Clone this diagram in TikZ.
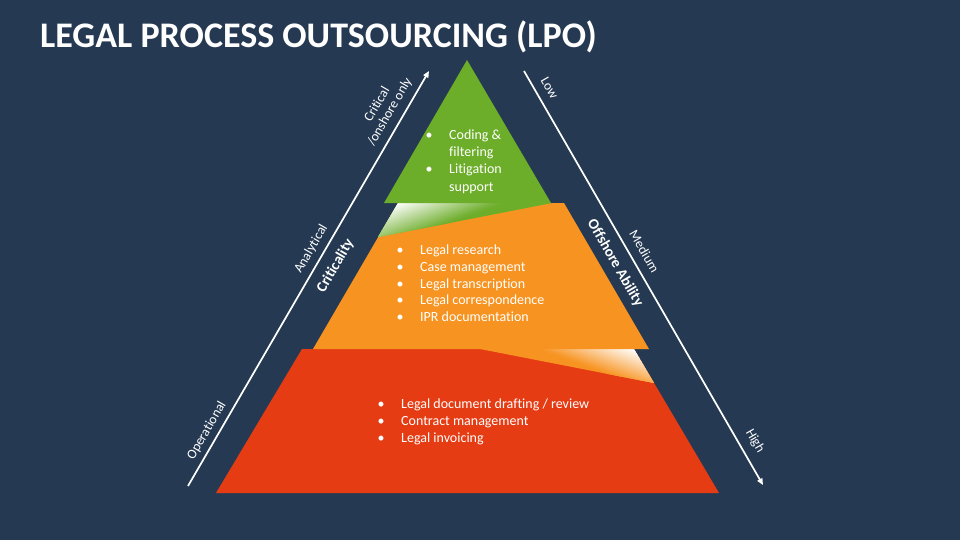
\documentclass[tikz,border=0pt]{standalone}
\usepackage{fontspec}
\setmainfont{Carlito}[Ligatures=NoCommon]
\usetikzlibrary{arrows.meta}
\definecolor{bgnavy}{RGB}{37,58,82}
\definecolor{lpogreen}{RGB}{108,173,41}
\definecolor{lpoorange}{RGB}{247,148,33}
\definecolor{lpored}{RGB}{230,60,20}
\begin{document}
\begin{tikzpicture}[x=1pt,y=-1pt,
  axisline/.style={draw=white, line width=1.7pt},
  axisarrow/.style={axisline, -{Triangle[length=6.5pt,width=5.5pt]}},
  sidelabel/.style={text=white, font=\fontsize{13.5}{14.5}\selectfont, sloped, inner sep=0pt, align=center},
  axistitle/.style={text=white, font=\bfseries\fontsize{15}{18}\selectfont, sloped, inner sep=0pt},
  tiertext/.style={text=white, font=\fontsize{14}{16.8}\selectfont, anchor=base west, inner sep=0pt},
  tierbullet/.style={text=white, font=\fontsize{14}{16.8}\selectfont, anchor=base, inner sep=0pt},
  ]
\useasboundingbox (0,0) rectangle (960,540);
\fill[bgnavy] (0,0) rectangle (960,540);

\node[text=white, font=\bfseries\fontsize{36}{40}\selectfont, anchor=base west, inner sep=0pt] (title) at (40,48) {LEGAL PROCESS OUTSOURCING (LPO)};

% bottom tier
\fill[lpored] (302,349) -- (634,349) -- (719,493) -- (216,493) -- cycle;
\begin{scope}
  \clip (480,349) -- (634,349) -- (654,383) -- cycle;
  \fill[lpoorange] (480,349) -- (634,349) -- (654,383) -- cycle;
  \foreach \k in {0,...,31} {
    \pgfmathsetmacro\mix{100*\k/32}
    \fill[lpoorange!\mix!white]
      ({634-0.342*\k-0.94*300},{349+0.94*\k-0.342*300}) --
      ({634-0.342*\k+0.94*300},{349+0.94*\k+0.342*300}) --
      ({634-0.342*(\k+1.6)+0.94*300},{349+0.94*(\k+1.6)+0.342*300}) --
      ({634-0.342*(\k+1.6)-0.94*300},{349+0.94*(\k+1.6)-0.342*300}) -- cycle;
  }
\end{scope}

% middle tier
\fill[lpoorange] (398,203) -- (564,203) -- (649,349) -- (313,349) -- cycle;
\begin{scope}
  \clip (398,203) -- (552,203) -- (378,237) -- cycle;
  \fill[lpogreen] (398,203) -- (552,203) -- (378,237) -- cycle;
  \foreach \k in {0,...,35} {
    \pgfmathsetmacro\mix{100*\k/36}
    \fill[lpogreen!\mix!white]
      ({398+0.342*\k-0.94*300},{203+0.94*\k+0.342*300}) --
      ({398+0.342*\k+0.94*300},{203+0.94*\k-0.342*300}) --
      ({398+0.342*(\k+1.6)+0.94*300},{203+0.94*(\k+1.6)-0.342*300}) --
      ({398+0.342*(\k+1.6)-0.94*300},{203+0.94*(\k+1.6)+0.342*300}) -- cycle;
  }
\end{scope}

% top tier
\fill[lpogreen] (467,60) -- (551,203) -- (384,203) -- cycle;

% tier texts
\node[tierbullet] (gb1) at (429,140) {•};
\node[tiertext] (gt1) at (449,140) {Coding \&};
\node[tiertext] (gt1b) at (449,157) {filtering};
\node[tierbullet] (gb2) at (429,174) {•};
\node[tiertext] (gt2) at (449,174) {Litigation};
\node[tiertext] (gt2b) at (449,191) {support};

\foreach \txt [count=\i] in {Legal research, Case management, Legal transcription, Legal correspondence, IPR documentation} {
  \node[tierbullet] (ob\i) at (400,{254.5+16.8*(\i-1)}) {•};
  \node[tiertext] (ot\i) at (420,{254.5+16.8*(\i-1)}) {\txt};
}

\foreach \txt [count=\i] in {Legal document drafting / review, Contract management, Legal invoicing} {
  \node[tierbullet] (rb\i) at (381,{408.5+16.8*(\i-1)}) {•};
  \node[tiertext] (rt\i) at (401,{408.5+16.8*(\i-1)}) {\txt};
}

% axes
\coordinate (critLow) at (188,486);
\coordinate (critHigh) at (429,71);
\coordinate (offLow) at (524,71);
\coordinate (offHigh) at (763,485);

\draw[axisarrow] (critLow) -- (critHigh)
  node[sidelabel, pos=0.119, yshift=11.5pt] (lblOper) {Operational}
  node[sidelabel, pos=0.556, yshift=12.5pt] (lblAnal) {Analytical}
  node[sidelabel, pos=0.885, yshift=20.5pt] (lblCrit) {Critical\\/onshore only}
  node[axistitle, pos=0.551, yshift=-17pt] (lblCriticality) {Criticality};

\draw[axisarrow] (offLow) -- (offHigh)
  node[sidelabel, pos=0.058, yshift=13.5pt] (lblLow) {Low}
  node[sidelabel, pos=0.453, yshift=14pt] (lblMed) {Medium}
  node[sidelabel, pos=0.912, yshift=15pt] (lblHigh) {High}
  node[axistitle, pos=0.443, yshift=-17pt] (lblOff) {Offshore Ability};
\end{tikzpicture}
\end{document}
